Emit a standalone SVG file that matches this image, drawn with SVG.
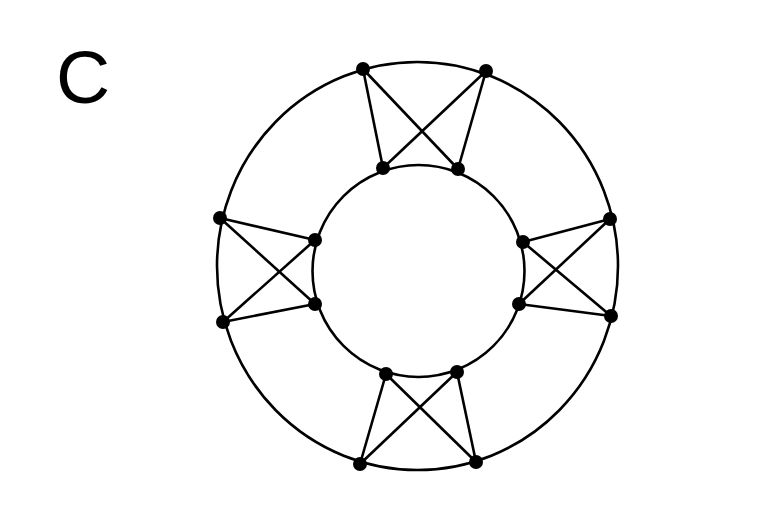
<svg xmlns="http://www.w3.org/2000/svg" width="768" height="516" viewBox="0 0 768 516">
<style>
.ring{fill:none;stroke:#000;stroke-width:2.6}
.e{stroke:#000;stroke-width:2.6;fill:none}
.n{fill:#000}
.lbl{font-family:"Liberation Sans",Arial,sans-serif;font-size:75px;fill:#000}
</style>
<rect width="768" height="516" fill="#fff"/>
<text class="lbl" x="56" y="103">C</text>
<g id="rings">
<ellipse class="ring" cx="417.5" cy="266" rx="200.5" ry="204"/>
<circle class="ring" cx="418.5" cy="271" r="106"/>
</g>
<g id="connectors">
<line class="e" x1="363" y1="69" x2="383" y2="168"/>
<line class="e" x1="363" y1="69" x2="458" y2="169"/>
<line class="e" x1="486" y1="71" x2="383" y2="168"/>
<line class="e" x1="486" y1="71" x2="458" y2="169"/>
<line class="e" x1="220" y1="218" x2="315" y2="240"/>
<line class="e" x1="220" y1="218" x2="315" y2="304"/>
<line class="e" x1="223" y1="322" x2="315" y2="240"/>
<line class="e" x1="223" y1="322" x2="315" y2="304"/>
<line class="e" x1="610" y1="219" x2="523" y2="242"/>
<line class="e" x1="610" y1="219" x2="519" y2="304"/>
<line class="e" x1="611" y1="316" x2="523" y2="242"/>
<line class="e" x1="611" y1="316" x2="519" y2="304"/>
<line class="e" x1="360" y1="464" x2="386" y2="374"/>
<line class="e" x1="360" y1="464" x2="457" y2="372"/>
<line class="e" x1="476" y1="462" x2="386" y2="374"/>
<line class="e" x1="476" y1="462" x2="457" y2="372"/>
</g>
<g id="n1"><circle class="n" cx="363" cy="69" r="7"/></g>
<g id="n2"><circle class="n" cx="486" cy="71" r="7"/></g>
<g id="n3"><circle class="n" cx="383" cy="168" r="7"/></g>
<g id="n4"><circle class="n" cx="458" cy="169" r="7"/></g>
<g id="n5"><circle class="n" cx="220" cy="218" r="7"/></g>
<g id="n6"><circle class="n" cx="315" cy="240" r="7"/></g>
<g id="n7"><circle class="n" cx="223" cy="322" r="7"/></g>
<g id="n8"><circle class="n" cx="315" cy="304" r="7"/></g>
<g id="n9"><circle class="n" cx="610" cy="219" r="7"/></g>
<g id="n10"><circle class="n" cx="523" cy="242" r="7"/></g>
<g id="n11"><circle class="n" cx="611" cy="316" r="7"/></g>
<g id="n12"><circle class="n" cx="519" cy="304" r="7"/></g>
<g id="n13"><circle class="n" cx="360" cy="464" r="7"/></g>
<g id="n14"><circle class="n" cx="476" cy="462" r="7"/></g>
<g id="n15"><circle class="n" cx="386" cy="374" r="7"/></g>
<g id="n16"><circle class="n" cx="457" cy="372" r="7"/></g>
</svg>
